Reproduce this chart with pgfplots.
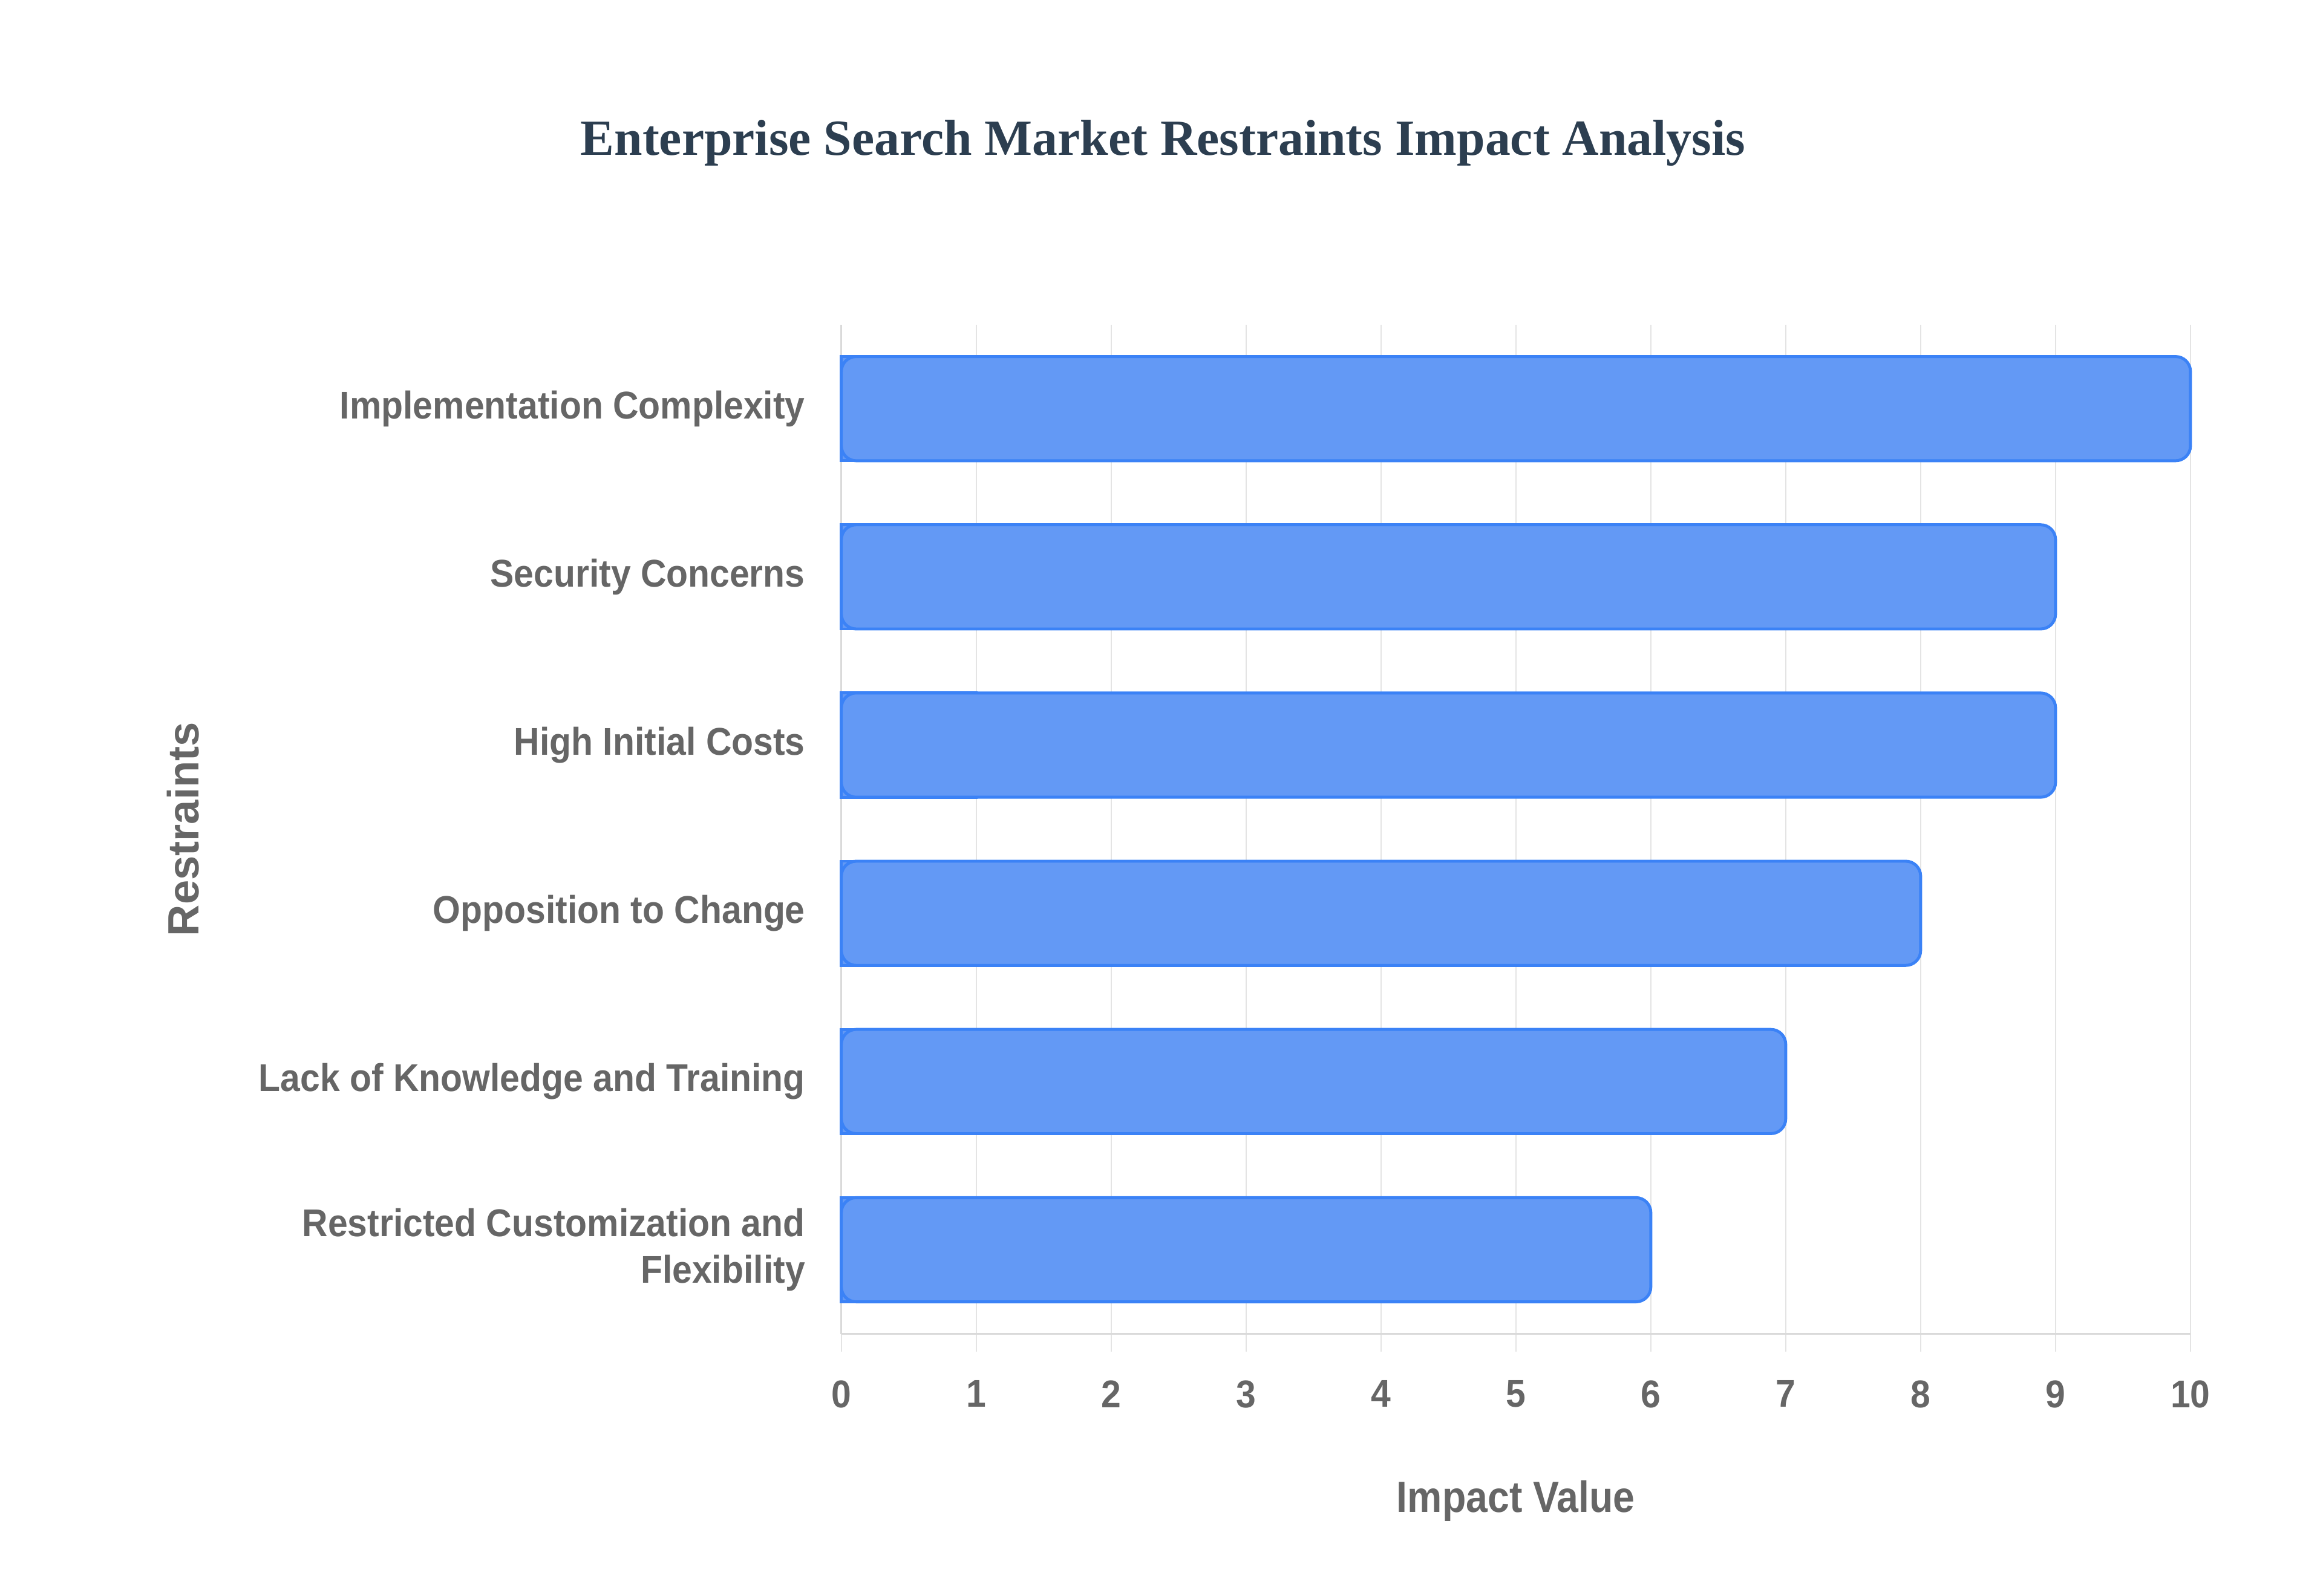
\documentclass[border=0pt]{standalone}
\usepackage{pgfplots}
\pgfplotsset{compat=1.18}
\usepackage{fontspec}
\newfontfamily\lsans[FakeStretch=0.92]{Liberation Sans}
\newfontfamily\lsanslab[FakeStretch=0.89]{Liberation Sans}
\newfontfamily\lsansrot{Liberation Sans}
\newfontfamily\lserif{Liberation Serif}
\definecolor{barfill}{HTML}{6399F5}
\definecolor{barline}{HTML}{3B82F6}
\definecolor{gridgray}{HTML}{E4E4E4}
\definecolor{axisgray}{HTML}{DADADA}
\definecolor{txtgray}{HTML}{666666}
\definecolor{titlec}{HTML}{2C3E50}
\begin{document}
\begin{tikzpicture}
\path[use as bounding box] (0,0) rectangle (780pt,536pt);
\begin{axis}[
  at={(282.5pt,88pt)}, anchor=south west,
  width=453pt, height=339pt, scale only axis,
  xmin=0, xmax=10, ymin=-0.5, ymax=5.5,
  clip=false,
  axis x line*=bottom, axis y line*=left,
  axis line style={draw=axisgray, line width=0.6pt, -},
  xtick={0,1,...,10},
  ytick={0,1,2,3,4,5},
  yticklabels={{Restricted Customization and\\Flexibility},{Lack of Knowledge and Training},{Opposition to Change},{High Initial Costs},{Security Concerns},{Implementation Complexity}},
  xmajorgrids, ymajorgrids=false,
  grid style={draw=gridgray, line width=0.5pt},
  tick align=outside, major tick length=6pt,
  xtick style={draw=gridgray, line width=0.5pt},
  ytick style={draw=none},
  /pgf/number format/assume math mode=true,
  ticklabel style={font=\lsans\bfseries\fontsize{13}{15.5}\selectfont, text=txtgray},
  xticklabel style={inner sep=0pt, anchor=north, yshift=-9.5pt},
  yticklabel style={inner sep=0pt, anchor=east, xshift=-6pt, align=right},
  xlabel={Impact Value},
  ylabel={Restraints},
  xlabel style={font=\lsanslab\bfseries\fontsize{14.7}{17}\selectfont, text=txtgray, at={(axis description cs:0.5,-0.1655)}, anchor=center},
  ylabel style={font=\lsansrot\bfseries\fontsize{14.7}{17}\selectfont, text=txtgray, at={(axis description cs:-0.4878,0.5)}, anchor=center},
  title={Enterprise Search Market Restraints Impact Analysis},
  title style={font=\lserif\bfseries\fontsize{17}{20}\selectfont, text=titlec, at={(axis description cs:0.2384,1.1504)}, anchor=base},
]
\addplot[xbar, bar width=35pt, fill=barfill, draw=barline, line width=1pt, forget plot]
  coordinates {(1,0) (1,1) (1,2) (1,3) (1,4) (1,5)};
\addplot[xbar, bar width=35pt, fill=barfill, draw=barline, line width=1pt, rounded corners=5pt]
  coordinates {(6,0) (7,1) (8,2) (9,3) (9,4) (10,5)};
\end{axis}
\end{tikzpicture}
\end{document}
